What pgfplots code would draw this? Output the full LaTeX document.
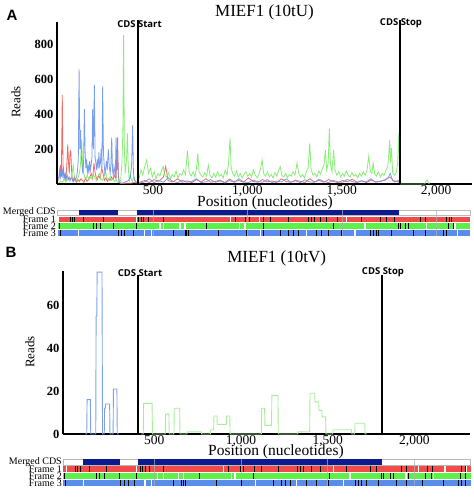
\documentclass[border=0pt]{standalone}
\usepackage{fontspec}
\setmainfont{Liberation Serif}
\newfontfamily\lettfont{Liberation Sans}
\newfontfamily\cdsfont{Open Sans}
\usepackage{pgfplots}
\pgfplotsset{compat=1.18}

\definecolor{rdA}{HTML}{F05A5A}
\definecolor{grA}{HTML}{7EEB6A}
\definecolor{blA}{HTML}{6A94EC}
\definecolor{blB}{HTML}{7FA0E8}
\definecolor{grB}{HTML}{A8EE98}
\definecolor{trR}{HTML}{F24B4B}
\definecolor{trG}{HTML}{5EF04A}
\definecolor{trB}{HTML}{5A8CEB}
\definecolor{cds}{HTML}{0B1A8C}

\pgfplotsset{
  readsaxis/.style={
    scale only axis, anchor=south west,
    axis lines=left, axis line style={-, line width=1.6pt},
    major tick length=0pt, clip=false,
    xticklabel style={font=\fontsize{13.5}{13.5}\selectfont, inner sep=0pt, yshift=-1pt},
    yticklabel style={font=\fontsize{12.5}{12.5}\selectfont\bfseries, inner sep=0pt, xshift=-3.5pt},
  },
  trackaxis/.style={
    scale only axis, anchor=south west,
    axis line style={draw=none}, xtick=\empty,
    ymin=0.5, ymax=4.5, ytick={1,2,3,4},
    yticklabels={Frame 3,Frame 2,Frame 1,Merged CDS},
    major tick length=0pt, clip=false,
    yticklabel style={font=\fontsize{10}{8}\selectfont, inner sep=0pt, xshift=-1pt},
  },
  stopmark/.style={only marks, mark=|, mark size=2.8pt, mark options={line width=0.9pt, black}},
  startmark/.style={only marks, mark=|, mark size=2.8pt, mark options={line width=1.1pt, white}},
  rowbar/.style={line width=5.6pt, line cap=butt},
}

\begin{document}
\begin{tikzpicture}
\useasboundingbox (0pt,0pt) rectangle (474pt,499pt);

% ---------------- Panel A: ribosome footprints ----------------
\begin{axis}[readsaxis, at={(57pt,315pt)}, width=415pt, height=162pt,
  xmin=-9, xmax=2190, ymin=0, ymax=926,
  xtick={500,1000,1500,2000}, xticklabels={500,{1,000},{1,500},{2,000}},
  ytick={200,400,600,800}, yticklabels={200,400,600,800}]
% frame 1
\addplot[rdA, line width=0.8pt, opacity=0.9] coordinates {
(0,20) (5,60) (10,108) (14,40) (19,508) (23,90) (28,30) (33,50) (38,20) (43,110)
(48,227) (52,120) (56,60) (60,185) (64,190) (68,80) (72,30) (77,15) (82,40) (88,20)
(95,10) (102,25) (110,15) (118,30) (126,20) (134,10) (142,35) (150,15) (158,25) (165,40)
(172,60) (180,30) (187,120) (192,70) (198,40) (205,25) (212,50) (220,30) (228,90) (235,60)
(242,20) (250,35) (258,15) (265,30) (272,20) (280,40) (288,25) (296,50) (304,30) (312,267)
(316,60) (320,10) (328,5) (336,5) (345,3) (360,5) (380,4) (400,8) (418,5)
(430,10) (455,20) (480,8) (505,25) (530,15) (555,40) (567,100) (580,20) (605,12) (630,30)
(655,10) (680,18) (705,8) (730,25) (755,12) (780,30) (805,10) (830,15) (855,22) (880,8)
(905,28) (930,12) (955,20) (980,10) (1005,35) (1030,15) (1055,10) (1080,25) (1105,12) (1130,18)
(1155,8) (1180,30) (1205,14) (1230,10) (1255,22) (1280,15) (1305,8) (1330,30) (1355,12) (1380,20)
(1405,10) (1430,25) (1455,15) (1480,8) (1505,20) (1530,12) (1555,28) (1580,10) (1605,18) (1630,8)
(1655,22) (1680,12) (1705,15) (1730,25) (1755,40) (1780,12) (1800,20) (1810,0)
};
% frame 2
\addplot[grA, line width=0.8pt, opacity=0.9] coordinates {
(0,5) (10,15) (20,10) (30,25) (40,15) (50,30) (60,20) (68,40) (72,70) (77,108)
(82,50) (88,30) (95,20) (102,35) (110,60) (116,120) (122,251) (127,100) (132,60) (138,40)
(145,30) (152,50) (160,25) (168,40) (176,30) (184,55) (192,35) (200,20) (208,45) (216,60)
(224,30) (232,20) (240,45) (248,70) (256,30) (264,25) (272,40) (280,20) (288,30) (296,15)
(304,25) (312,10) (320,8) (328,15) (335,120) (340,300) (344,851) (348,200) (352,60) (356,100)
(360,150) (364,290) (368,120) (372,40) (376,20) (380,60) (384,30) (390,15) (398,40) (405,20)
(412,10) (418,5)
(425,30) (436,80) (446,50) (456,100) (466,137) (476,60) (486,90) (496,40) (506,70) (516,30)
(526,60) (536,45) (546,80) (554,100) (562,50) (572,40) (582,65) (592,30) (602,55) (612,40)
(622,75) (632,35) (642,60) (652,50) (662,80) (672,55) (682,190) (692,60) (702,45) (712,70)
(722,40) (730,90) (737,175) (744,70) (754,50) (764,40) (774,65) (784,45) (793,108) (802,50)
(812,35) (822,60) (832,40) (842,70) (852,45) (862,55) (872,35) (882,80) (892,50) (900,120)
(908,261) (914,90) (922,60) (932,45) (942,75) (952,40) (962,60) (972,35) (982,55) (992,70)
(1002,45) (1012,60) (1022,40) (1032,80) (1042,50) (1052,35) (1062,60) (1070,90) (1078,137) (1086,60)
(1096,45) (1106,70) (1116,40) (1126,55) (1136,35) (1146,65) (1156,45) (1166,80) (1174,100) (1182,50)
(1192,40) (1202,60) (1212,35) (1222,55) (1232,45) (1242,70) (1252,50) (1263,120) (1272,60) (1282,40)
(1292,55) (1302,35) (1312,70) (1322,90) (1330,232) (1338,80) (1348,50) (1358,60) (1368,40) (1378,75)
(1388,55) (1398,90) (1406,110) (1413,194) (1420,80) (1428,120) (1434,318) (1440,110) (1448,70) (1457,194)
(1464,80) (1474,50) (1484,70) (1494,40) (1504,60) (1514,45) (1524,75) (1534,50) (1544,40) (1554,65)
(1564,45) (1574,55) (1584,35) (1594,60) (1604,45) (1614,70) (1624,50) (1634,80) (1643,160) (1652,70)
(1660,60) (1666,120) (1674,60) (1684,45) (1694,70) (1704,40) (1714,60) (1724,50) (1734,80) (1744,100)
(1754,251) (1758,120) (1763,206) (1770,60) (1780,50) (1790,70) (1796,120) (1802,290) (1806,60) (1812,0)
(1940,0) (1946,15) (1952,25) (1958,8) (1964,0)
};
% frame 3
\addplot[blA, line width=0.8pt, opacity=0.9] coordinates {
(0,30) (5,80) (10,40) (15,100) (20,50) (25,90) (30,40) (35,60) (40,30) (45,50)
(50,25) (55,40) (60,20) (65,35) (70,30) (75,15) (80,25) (85,20) (90,30) (95,40)
(100,80) (104,150) (108,655) (112,200) (116,308) (120,160) (124,100) (128,60) (132,120) (136,428)
(140,180) (144,90) (148,140) (152,70) (156,100) (160,60) (164,130) (168,80) (172,110) (176,150)
(180,428) (184,200) (189,566) (193,150) (197,120) (201,80) (205,140) (209,90) (213,180) (217,100)
(221,120) (225,200) (229,90) (233,560) (237,180) (241,110) (245,60) (249,90) (253,130) (257,80)
(263,198) (268,100) (273,60) (277,120) (281,267) (285,80) (289,50) (293,100) (297,70) (300,40)
(304,267) (308,80) (312,150) (316,60) (320,10) (325,5) (330,3) (340,5) (350,10) (360,15)
(370,20) (380,40) (386,100) (392,337) (396,60) (402,20) (410,10) (418,5)
(430,5) (455,12) (480,30) (505,8) (530,20) (555,10) (580,35) (605,15) (630,8) (655,22)
(680,10) (705,15) (730,30) (755,8) (780,12) (805,25) (830,10) (855,18) (880,6) (905,20)
(930,10) (955,30) (980,12) (1005,8) (1030,22) (1055,14) (1080,10) (1105,25) (1130,8) (1155,16)
(1180,12) (1205,30) (1230,10) (1255,18) (1280,8) (1305,24) (1330,12) (1355,10) (1380,28) (1405,14)
(1430,8) (1455,20) (1480,12) (1505,10) (1530,26) (1555,14) (1580,8) (1605,18) (1630,12) (1655,30)
(1680,10) (1705,16) (1730,22) (1745,35) (1757,60) (1770,20) (1790,15) (1805,10) (1812,0)
};
% CDS boundaries
\addplot[black, line width=2pt] coordinates {(418,0) (418,937)};
\addplot[black, line width=2pt] coordinates {(1809,0) (1809,937)};
\end{axis}

% ORF tracks A
\begin{axis}[trackaxis, at={(57pt,262.6pt)}, width=415pt, height=27.3pt, xmin=-9, xmax=2190]
\addplot[fill=white, draw=gray!55, line width=0.4pt] coordinates {(-6,3.59) (2180,3.59) (2180,4.41) (-6,4.41)} -- cycle;
\addplot[cds, rowbar] coordinates {(108,4) (316,4)};
\addplot[cds, rowbar] coordinates {(417,4) (1804,4)};
\addplot[trR, rowbar] coordinates {(-6,3) (2180,3)};
\addplot[trG, rowbar] coordinates {(-6,2) (2180,2)};
\addplot[trB, rowbar] coordinates {(-6,1) (2180,1)};
\addplot[startmark] coordinates {(0,3) (412,3) (908,3) (1063,3) (1526,3)};
\addplot[stopmark] coordinates {(60,3) (73,3) (81,3) (130,3) (236,3) (423,3) (436,3) (449,3) (475,3) (554,3)
 (934,3) (990,3) (1009,3) (1084,3) (1124,3) (1215,3) (1323,3) (1337,3) (1353,3) (1385,3) (1420,3)
 (1475,3) (1606,3) (1703,3) (1738,3) (1779,3) (1915,3) (1941,3) (2056,3) (2069,3) (2083,3)};
\addplot[startmark] coordinates {(537,2) (554,2) (643,2) (669,2) (958,2) (987,2) (1623,2) (1950,2) (2100,2)};
\addplot[stopmark] coordinates {(3,2) (183,2) (201,2) (219,2) (289,2) (413,2) (784,2) (1084,2) (1455,2)
 (1800,2) (1809,2) (1835,2) (1853,2) (2065,2) (2091,2)};
\addplot[startmark] coordinates {(104,1) (457,1) (493,1) (1067,1) (1314,1) (1570,1) (2111,1)};
\addplot[stopmark] coordinates {(7,1) (316,1) (334,1) (351,1) (395,1) (607,1) (669,1) (678,1) (687,1) (846,1)
 (996,1) (1084,1) (1173,1) (1217,1) (1243,1) (1270,1) (1367,1) (1394,1) (1429,1) (1500,1) (1650,1)
 (1667,1) (1685,1) (1694,1) (1765,1) (1879,1) (1941,1) (2038,1) (2056,1)};
\addplot[gray!60, line width=0.5pt, opacity=0.7] coordinates {(500,0.6) (500,4.4)};
\addplot[gray!60, line width=0.5pt, opacity=0.7] coordinates {(1000,0.6) (1000,4.4)};
\addplot[gray!60, line width=0.5pt, opacity=0.7] coordinates {(1500,0.6) (1500,4.4)};
\addplot[gray!60, line width=0.5pt, opacity=0.7] coordinates {(2000,0.6) (2000,4.4)};
\end{axis}

% ---------------- Panel B ----------------
\begin{axis}[readsaxis, at={(63pt,65pt)}, width=407pt, height=163pt,
  xmin=-27, xmax=2321, ymin=0, ymax=76,
  xtick={500,1000,1500,2000}, xticklabels={500,{1,000},{1,500},{2,000}},
  ytick={0,20,40,60}, yticklabels={0,20,40,60}]
\addplot[blB, line width=0.9pt] coordinates {
(100,0) (110,0) (112,16) (131,16) (133,0) (162,0) (164,55) (168,55) (170,75.5) (198,75.5) (201,0)
(211,0) (213,12) (217,12) (219,14) (242,14) (244,0) (262,0) (264,21) (284,21) (286,0) (295,0)
};
\addplot[grB, line width=0.9pt] coordinates {
(425,0) (436,0) (438,14.3) (487,14.3) (489,0) (563,0) (565,9.3) (584,9.3) (586,0) (613,0) (615,12)
(646,12) (648,0) (688,0) (690,1) (771,1) (773,0) (823,0) (825,2) (842,2) (844,8.4) (861,8.4)
(863,4.5) (915,4.5) (917,8.4) (935,8.4) (937,0) (1117,0) (1119,12) (1136,12) (1138,4) (1176,4)
(1178,18) (1213,18) (1215,0) (1327,0) (1329,1) (1396,1) (1398,19) (1425,19) (1427,15) (1448,15)
(1450,11) (1466,11) (1468,8) (1488,8) (1490,0) (1529,0) (1531,2) (1637,2) (1639,0) (1656,0)
(1658,5) (1714,5) (1716,0) (1725,0)
};
\addplot[black, line width=2pt] coordinates {(406,0) (406,74)};
\addplot[black, line width=2pt] coordinates {(1814,0) (1814,74)};
\end{axis}

% ORF tracks B
\begin{axis}[trackaxis, at={(63pt,12.5pt)}, width=407pt, height=28pt, xmin=-27, xmax=2321]
\addplot[fill=white, draw=gray!55, line width=0.4pt] coordinates {(-25,3.6) (2325,3.6) (2325,4.4) (-25,4.4)} -- cycle;
\addplot[cds, rowbar] coordinates {(90,4) (302,4)};
\addplot[cds, rowbar] coordinates {(407,4) (1812,4)};
\addplot[trR, rowbar] coordinates {(-25,3) (2325,3)};
\addplot[trG, rowbar] coordinates {(-25,2) (2325,2)};
\addplot[trB, rowbar] coordinates {(-25,1) (2325,1)};
\addplot[startmark] coordinates {(-8,3) (398,3) (898,3) (1533,3) (2023,3) (2177,3) (2302,3)};
\addplot[stopmark] coordinates {(42,3) (55,3) (71,3) (125,3) (225,3) (417,3) (433,3) (448,3) (469,3) (552,3)
 (927,3) (994,3) (1013,3) (1075,3) (1119,3) (1215,3) (1327,3) (1340,3) (1359,3) (1408,3) (1460,3)
 (1610,3) (1744,3) (1783,3) (1927,3) (1956,3) (2075,3) (2106,3) (2269,3) (2292,3)};
\addplot[startmark] coordinates {(517,2) (552,2) (638,2) (667,2) (946,2) (965,2) (1629,2) (1952,2) (2110,2)};
\addplot[stopmark] coordinates {(-16,2) (167,2) (186,2) (215,2) (298,2) (398,2) (763,2) (1071,2) (1513,2)
 (1812,2) (1821,2) (1860,2) (1879,2) (1965,2) (2062,2) (2100,2) (2264,2) (2292,2)};
\addplot[startmark] coordinates {(90,1) (446,1) (485,1) (1081,1) (1321,1) (1590,1)};
\addplot[stopmark] coordinates {(-10,1) (302,1) (325,1) (348,1) (388,1) (609,1) (658,1) (667,1) (677,1) (860,1)
 (1004,1) (1186,1) (1235,1) (1258,1) (1283,1) (1379,1) (1437,1) (1504,1) (1658,1) (1677,1) (1696,1)
 (1721,1) (1792,1) (1898,1) (1956,1) (2048,1) (2167,1) (2254,1) (2269,1) (2292,1)};
\addplot[gray!60, line width=0.5pt, opacity=0.7] coordinates {(500,0.6) (500,4.4)};
\addplot[gray!60, line width=0.5pt, opacity=0.7] coordinates {(1000,0.6) (1000,4.4)};
\addplot[gray!60, line width=0.5pt, opacity=0.7] coordinates {(1500,0.6) (1500,4.4)};
\addplot[gray!60, line width=0.5pt, opacity=0.7] coordinates {(2000,0.6) (2000,4.4)};
\end{axis}

% ---------------- Text ----------------
\node[font=\lettfont\bfseries\fontsize{15}{15}\selectfont] at (12pt,484pt) {A};
\node[font=\lettfont\bfseries\fontsize{15}{15}\selectfont] at (11pt,247pt) {B};
\node[font=\fontsize{17}{17}\selectfont] at (264.5pt,487pt) {MIEF1 (10tU)};
\node[font=\fontsize{17}{17}\selectfont] at (276.7pt,241pt) {MIEF1 (10tV)};
\node[font=\fontsize{13}{13}\selectfont, rotate=90] at (16pt,397pt) {Reads};
\node[font=\fontsize{13}{13}\selectfont, rotate=90] at (30pt,147pt) {Reads};
\node[font=\fontsize{15.5}{15.5}\selectfont, inner sep=0pt] at (265pt,296.5pt) {Position (nucleotides)};
\node[font=\fontsize{15.5}{15.5}\selectfont, inner sep=0pt] at (276pt,47pt) {Position (nucleotides)};
\node[font=\cdsfont\bfseries\fontsize{9.5}{9.5}\selectfont, inner sep=0pt] at (139.5pt,475pt) {CDS Start};
\node[font=\cdsfont\bfseries\fontsize{9.5}{9.5}\selectfont, inner sep=0pt] at (401pt,476pt) {CDS Stop};
\node[font=\cdsfont\bfseries\fontsize{9.5}{9.5}\selectfont, inner sep=0pt] at (140pt,226.3pt) {CDS Start};
\node[font=\cdsfont\bfseries\fontsize{9.5}{9.5}\selectfont, inner sep=0pt] at (383pt,226.3pt) {CDS Stop};
\end{tikzpicture}
\end{document}
